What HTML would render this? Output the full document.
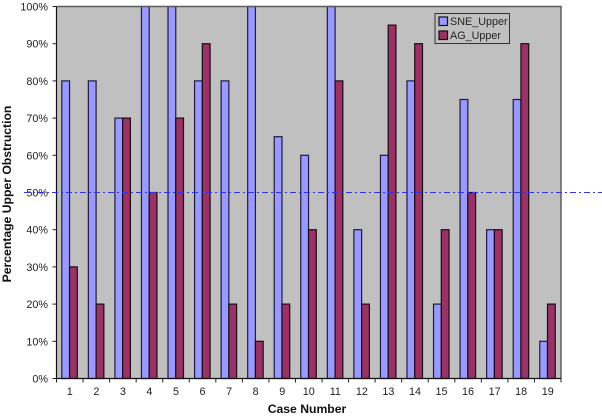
<!DOCTYPE html>
<html>
<head>
<meta charset="utf-8">
<style>
html,body{margin:0;padding:0;background:#fff;}
#chart{display:block;width:602px;height:416px;font-family:"Liberation Sans",sans-serif;filter:blur(0.35px);}
</style>
</head>
<body>
<svg id="chart" xmlns="http://www.w3.org/2000/svg" width="602" height="416" viewBox="0 0 602 416">
<g id="root"></g>
</svg>
<script>
const categories = ["1","2","3","4","5","6","7","8","9","10","11","12","13","14","15","16","17","18","19"];
const sneUpper = [80,80,70,100,100,80,80,100,65,60,100,40,60,80,20,75,40,75,10];
const agUpper = [30,20,70,50,70,90,20,10,20,40,80,20,95,90,40,50,40,90,20];
const yTicks = [0,10,20,30,40,50,60,70,80,90,100];
const referenceLevel = 50;

const NS = "http://www.w3.org/2000/svg";
const root = document.getElementById("root");
const L = 56.5, R = 561, T = 6.5, B = 378.5;
const band = (R - L) / categories.length;
const barW = 7.75;
const xAxis = i => L + band * i;
const yAxis = v => B - (B - T) * v / 100;

function mk(tag, attrs, parent) {
  const el = document.createElementNS(NS, tag);
  for (const k in attrs) el.setAttribute(k, attrs[k]);
  (parent || root).appendChild(el);
  return el;
}

const plot = mk("rect", {x: L, y: T, width: R - L, height: B - T, fill: "#c0c0c0"});



categories.forEach((c, i) => {
  const x0 = xAxis(i) + 5.3;
  const h1 = yAxis(sneUpper[i]);
  const r1 = mk("rect", {x: x0, y: h1, width: barW, height: B - h1, fill: "#9999ff", stroke: "#1c1c40", "stroke-width": 1.2});
  
  
  const h2 = yAxis(agUpper[i]);
  const r2 = mk("rect", {x: x0 + barW, y: h2, width: barW, height: B - h2, fill: "#993366", stroke: "#1c0a16", "stroke-width": 1.2});
  
  
});

const frameTop = mk("path", {d: `M${L} ${T}H${R}V${B}`, fill: "none", stroke: "#5e5e5e", "stroke-width": 1.5});



const yLine = mk("line", {x1: L, y1: T, x2: L, y2: B + 0.5, stroke: "#111", "stroke-width": 1.2});


const xLine = mk("line", {x1: L, y1: B, x2: R, y2: B, stroke: "#111", "stroke-width": 1.2});



yTicks.forEach(v => {
  const y = yAxis(v);
  const t = mk("line", {x1: L - 4, y1: y, x2: L, y2: y, stroke: "#222", "stroke-width": 1});
  
  
  const l = mk("text", {x: 48, y: y + 4, "text-anchor": "end", "font-size": 10.8, fill: "#222"});
  l.textContent = v + "%";
  
  
});

for (let i = 0; i <= categories.length; i++) {
  const x = xAxis(i);
  const t = mk("line", {x1: x, y1: B, x2: x, y2: B + 4, stroke: "#222", "stroke-width": 1});
  
  
}
categories.forEach((c, i) => {
  const l = mk("text", {x: xAxis(i) + band / 2, y: 395, "text-anchor": "middle", "font-size": 10.8, fill: "#222"});
  l.textContent = c;
  
  
});

const ref = mk("line", {x1: 24, y1: yAxis(referenceLevel), x2: 602, y2: yAxis(referenceLevel), stroke: "#3333e6", "stroke-width": 1.1, "stroke-dasharray": "6 3 2 3"});



const yTitle = mk("text", {transform: "translate(11 194) rotate(-90)", "text-anchor": "middle", "font-size": 12.2, "font-weight": "bold", fill: "#111"});
yTitle.textContent = "Percentage Upper Obstruction";



const xTitle = mk("text", {x: 307, y: 413, "text-anchor": "middle", "font-size": 12.2, "font-weight": "bold", fill: "#111"});
xTitle.textContent = "Case Number";



const legend = mk("rect", {x: 435, y: 13.5, width: 74.5, height: 30, fill: "#c0c0c0", stroke: "#333", "stroke-width": 1});



const sw1 = mk("rect", {x: 439, y: 17, width: 8.5, height: 8.5, fill: "#9999ff", stroke: "#111", "stroke-width": 1.2});


const lt1 = mk("text", {x: 450, y: 25, "font-size": 10.8, fill: "#222"});
lt1.textContent = "SNE_Upper";



const sw2 = mk("rect", {x: 439, y: 31, width: 8.5, height: 8.5, fill: "#993366", stroke: "#111", "stroke-width": 1.2});


const lt2 = mk("text", {x: 450, y: 39, "font-size": 10.8, fill: "#222"});
lt2.textContent = "AG_Upper";


</script>
</body>
</html>
